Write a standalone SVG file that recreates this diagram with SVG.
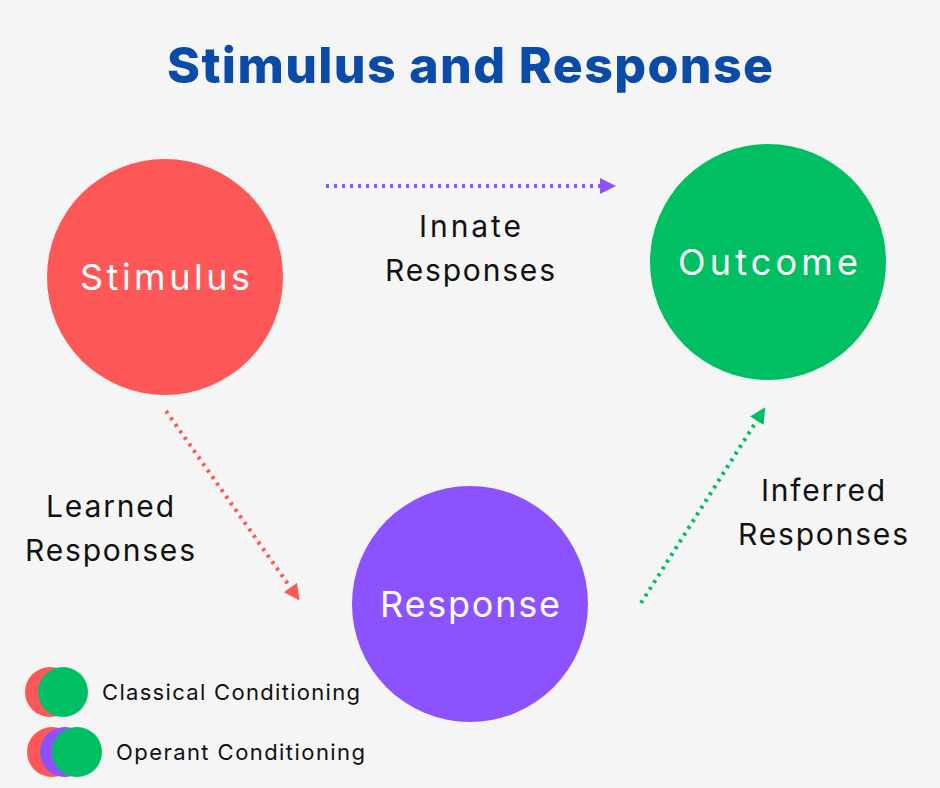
<svg xmlns="http://www.w3.org/2000/svg" width="940" height="788" viewBox="0 0 940 788">
<style>
text{font-family:Inter,"Open Sans","Liberation Sans",sans-serif}
.lbl{font-size:36px;fill:#fff;text-anchor:middle}
.cap{font-size:30px;fill:#111;text-anchor:middle}
.leg{font-size:22px;fill:#111}
.c{stroke-width:4;stroke-dasharray:3 5;fill:none}
</style>
<defs>
<marker id="ar1" viewBox="0 0 10 10" refX="5" refY="5" markerWidth="4" markerHeight="4" orient="auto"><path d="M0,0L10,5L0,10z" fill="#fe5757"/></marker>
<marker id="ar2" viewBox="0 0 10 10" refX="5" refY="5" markerWidth="4" markerHeight="4" orient="auto"><path d="M0,0L10,5L0,10z" fill="#8c52ff"/></marker>
<marker id="ar3" viewBox="0 0 10 10" refX="5" refY="5" markerWidth="4" markerHeight="4" orient="auto"><path d="M0,0L10,5L0,10z" fill="#00bf63"/></marker>
</defs>
<rect width="940" height="788" fill="#f5f5f5"/>
<text x="470" y="83" text-anchor="middle" font-size="50" font-weight="800" fill="#0a4aa8" textLength="606" lengthAdjust="spacing">Stimulus and Response</text>
<g id="connectors">
<line class="c" x1="326" y1="186" x2="608" y2="186" stroke="#8c52ff" marker-end="url(#ar2)"/>
<line class="c" x1="166" y1="411" x2="295" y2="594" stroke="#fe5757" marker-end="url(#ar1)"/>
<line class="c" x1="641" y1="603" x2="761" y2="414" stroke="#00bf63" marker-end="url(#ar3)"/>
<text class="cap" x="470" y="237" textLength="102" lengthAdjust="spacing">Innate</text>
<text class="cap" x="470" y="281" textLength="170" lengthAdjust="spacing">Responses</text>
<text class="cap" x="110" y="517" textLength="128" lengthAdjust="spacing">Learned</text>
<text class="cap" x="110" y="561" textLength="170" lengthAdjust="spacing">Responses</text>
<text class="cap" x="823" y="501" textLength="124" lengthAdjust="spacing">Inferred</text>
<text class="cap" x="823" y="545" textLength="170" lengthAdjust="spacing">Responses</text>
</g>
<g id="stimulus"><circle cx="165" cy="277" r="118" fill="#fe5757"/><text class="lbl" x="165" y="290" textLength="170" lengthAdjust="spacing">Stimulus</text></g>
<g id="outcome"><circle cx="768" cy="262" r="118" fill="#00bf63"/><text class="lbl" x="768" y="275" textLength="180" lengthAdjust="spacing">Outcome</text></g>
<g id="response"><circle cx="470" cy="604" r="118" fill="#8c52ff"/><text class="lbl" x="470" y="617" textLength="180" lengthAdjust="spacing">Response</text></g>
<g id="legend-classical">
<circle cx="50" cy="692" r="25" fill="#fe5757"/><circle cx="63" cy="692" r="25" fill="#00bf63"/>
<text class="leg" x="102" y="700" textLength="258" lengthAdjust="spacing">Classical Conditioning</text>
</g>
<g id="legend-operant">
<circle cx="52" cy="752" r="25" fill="#fe5757"/><circle cx="65" cy="752" r="25" fill="#8c52ff"/><circle cx="77" cy="752" r="25" fill="#00bf63"/>
<text class="leg" x="116" y="760" textLength="249" lengthAdjust="spacing">Operant Conditioning</text>
</g>
</svg>
